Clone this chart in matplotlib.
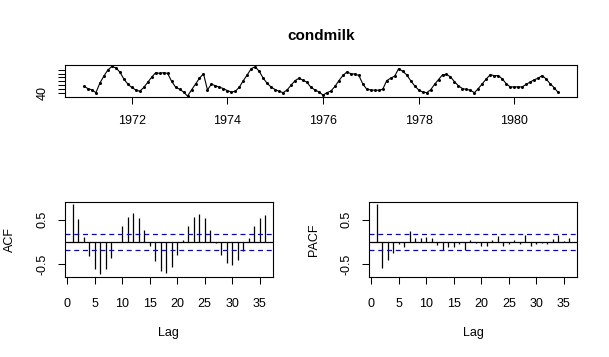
import matplotlib
matplotlib.use('Agg')
import matplotlib.pyplot as pl
import numpy as np

pl.rcParams['font.family'] = ['Liberation Sans', 'DejaVu Sans']

title = 'condmilk'
start_year = 1971
frequency = 12

# monthly values, 1971-1980
condmilk = [
    73.5, 62.8, 55.8, 41.6, 91.2, 126.6, 158.4, 176.1, 169.0, 147.8, 112.4, 85.9,
    68.2, 55.8, 48.7, 68.2, 94.7, 121.3, 144.3, 140.7, 144.3, 140.7, 100.0, 70.0,
    59.3, 45.1, 23.9, 55.8, 85.9, 115.9, 138.9, 55.8, 85.9, 77.0, 69.9, 62.8,
    52.2, 45.1, 48.7, 69.9, 103.6, 133.6, 165.5, 174.3, 151.3, 115.9, 89.4, 69.9,
    57.5, 48.7, 41.6, 55.8, 80.5, 103.6, 116.0, 105.3, 94.7, 68.2, 55.8, 45.1,
    29.2, 41.6, 50.5, 73.5, 103.6, 130.1, 147.8, 139.0, 137.2, 130.1, 85.9, 59.3,
    55.8, 54.0, 54.0, 59.3, 103.6, 116.0, 126.6, 165.5, 151.3, 133.6, 103.6, 77.0,
    55.8, 45.1, 41.6, 55.8, 84.1, 108.9, 133.6, 135.4, 123.0, 98.2, 77.0, 62.8,
    57.9, 54.6, 41.4, 62.9, 87.7, 112.5, 134.0, 129.1, 129.1, 112.5, 87.7, 71.2,
    71.2, 71.2, 71.2, 84.4, 96.0, 107.6, 115.8, 129.1, 112.5, 87.7, 67.9, 43.0,
]
year_ticks = [1972, 1974, 1976, 1978, 1980]
level_ticks = [40, 60, 80, 100, 120, 140, 160]
level_tick_labels = ['40', '', '', '', '', '', '']

lags = list(range(1, 37))
acf = [0.84, 0.51, 0.11, -0.31, -0.60, -0.72, -0.60, -0.35, 0.01, 0.35, 0.57, 0.66,
       0.53, 0.26, -0.09, -0.43, -0.65, -0.70, -0.56, -0.30, 0.04, 0.35, 0.57, 0.62,
       0.53, 0.28, -0.03, -0.30, -0.48, -0.51, -0.40, -0.20, 0.08, 0.35, 0.53, 0.60]
pacf = [0.84, -0.59, -0.40, -0.25, -0.05, -0.11, 0.25, 0.08, 0.08, 0.11, 0.08, -0.07,
        -0.17, -0.11, -0.11, -0.04, -0.17, 0.04, -0.02, -0.09, -0.09, 0.04, 0.13, -0.09,
        -0.04, 0.04, -0.04, 0.16, -0.09, -0.05, -0.02, -0.04, 0.06, 0.16, 0.02, 0.08]
lag_ticks = [0, 5, 10, 15, 20, 25, 30, 35]
corr_ticks = [-0.5, 0.5]
corr_tick_labels = ['-0.5', '0.5']

W, H = 609, 357
FS = 9


def px_axes(fig, left, top, right, bottom):
    return fig.add_axes([left / W, 1 - bottom / H, (right - left) / W, (bottom - top) / H])


def r_style(ax, xpad=7, ypad=7):
    for sp in ax.spines.values():
        sp.set_linewidth(0.8)
    ax.tick_params(direction='out', length=5, width=0.75, labelsize=FS)
    ax.tick_params(axis='x', pad=xpad)
    ax.tick_params(axis='y', pad=ypad)


def corr_panel(ax, values, ylim, conf, label):
    ax.vlines(lags, 0, values, colors='black', linewidth=0.9)
    ax.axhline(0, color='black', linewidth=0.9)
    for c in (conf, -conf):
        ax.axhline(c, color='#0000FF', linewidth=0.9, linestyle=(0, (4, 3)))
    ax.set_xlim(lags[0] - 0.04 * (lags[-1] - lags[0]), lags[-1] + 0.04 * (lags[-1] - lags[0]))
    ax.set_ylim(*ylim)
    ax.set_xticks(lag_ticks)
    ax.set_yticks(corr_ticks)
    ax.set_yticklabels(corr_tick_labels, rotation=90, va='center')
    r_style(ax, xpad=10, ypad=7)
    ax.set_xlabel('Lag', fontsize=FS)
    ax.set_ylabel(label, fontsize=FS)
    ax.xaxis.set_label_coords(0.5, -0.67)
    ax.yaxis.set_label_coords(-0.235, 0.5)


def main():
    values = np.array(condmilk)
    t = start_year + np.arange(len(values)) / frequency

    fig = pl.figure(figsize=(W / 100, H / 100), dpi=100)

    ax = px_axes(fig, 65, 65.3, 577, 97.3)
    ax.plot(t, values, color='black', linewidth=0.8, marker='o', markersize=1.2)
    ax.margins(x=0.04, y=0.04)
    ax.set_xticks(year_ticks)
    ax.set_yticks(level_ticks)
    ax.set_yticklabels(level_tick_labels, rotation=90, va='center')
    r_style(ax, xpad=8, ypad=7)
    ax.set_title(title, fontsize=11, fontweight='bold', pad=18)

    conf = 1.96 / np.sqrt(len(values))
    lo = min(min(acf), min(pacf), -conf)
    hi = max(max(acf), max(pacf), conf)
    pad = 0.04 * (hi - lo)
    ylim = (lo - pad, hi + pad)

    ax1 = px_axes(fig, 65, 201.7, 272.7, 277)
    corr_panel(ax1, acf, ylim, conf, 'ACF')
    ax2 = px_axes(fig, 369.3, 201.7, 577, 277)
    corr_panel(ax2, pacf, ylim, conf, 'PACF')

    fig.savefig('out.png', dpi=100)


if __name__ == '__main__':
    main()
